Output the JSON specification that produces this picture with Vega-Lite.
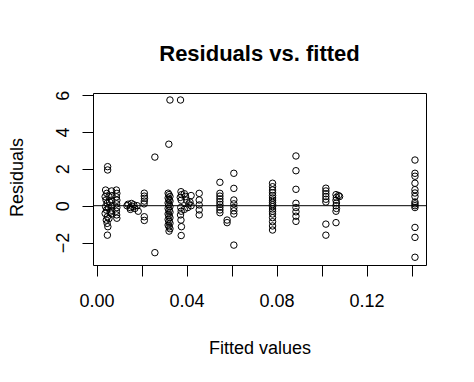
{
  "$schema": "https://vega.github.io/schema/vega-lite/v6.json",
  "width": 333,
  "height": 172,
  "autosize": {"type": "none"},
  "padding": {"left": 93, "top": 93, "right": 48, "bottom": 117},
  "background": "white",
  "title": {"text": "Residuals vs. fitted", "font": "Liberation Sans", "fontSize": 22, "fontWeight": "bold", "color": "black", "anchor": "middle", "frame": "group", "baseline": "alphabetic", "offset": 7},
  "config": {
    "view": {"stroke": "black", "strokeWidth": 1},
    "axis": {"grid": false, "domain": false, "ticks": true, "tickColor": "black", "tickWidth": 1, "tickSize": 11, "labelFont": "Liberation Sans", "labelFontSize": 18, "labelColor": "black", "titleFont": "Liberation Sans", "titleFontSize": 18, "titleFontWeight": "normal", "titleColor": "black"}
  },
  "datasets": {
    "pts": [
      {"fitted": 0.0049, "resid": 2.12}, {"fitted": 0.0049, "resid": 1.94},
      {"fitted": 0.0040, "resid": 0.85}, {"fitted": 0.0045, "resid": 0.67}, {"fitted": 0.0038, "resid": 0.49}, {"fitted": 0.0042, "resid": 0.31}, {"fitted": 0.0047, "resid": 0.13}, {"fitted": 0.0040, "resid": -0.05}, {"fitted": 0.0044, "resid": -0.24}, {"fitted": 0.0038, "resid": -0.42}, {"fitted": 0.0048, "resid": -0.6}, {"fitted": 0.0043, "resid": -0.78}, {"fitted": 0.0047, "resid": -0.96}, {"fitted": 0.0050, "resid": -1.14}, {"fitted": 0.0048, "resid": -1.6},
      {"fitted": 0.0055, "resid": 0.5}, {"fitted": 0.0058, "resid": 0.2}, {"fitted": 0.0052, "resid": -0.1}, {"fitted": 0.0060, "resid": -0.35}, {"fitted": 0.0055, "resid": -0.7},
      {"fitted": 0.0067, "resid": 0.8}, {"fitted": 0.0068, "resid": 0.55}, {"fitted": 0.0066, "resid": 0.3}, {"fitted": 0.0068, "resid": 0.0}, {"fitted": 0.0067, "resid": -0.25}, {"fitted": 0.0066, "resid": -0.45},
      {"fitted": 0.0088, "resid": 0.85}, {"fitted": 0.0090, "resid": 0.67}, {"fitted": 0.0088, "resid": 0.48}, {"fitted": 0.0090, "resid": 0.3}, {"fitted": 0.0089, "resid": 0.1}, {"fitted": 0.0090, "resid": -0.1}, {"fitted": 0.0088, "resid": -0.3}, {"fitted": 0.0089, "resid": -0.5}, {"fitted": 0.0090, "resid": -0.68},
      {"fitted": 0.0135, "resid": 0.0}, {"fitted": 0.0140, "resid": 0.08}, {"fitted": 0.0150, "resid": -0.1}, {"fitted": 0.0155, "resid": 0.12}, {"fitted": 0.0160, "resid": -0.05}, {"fitted": 0.0165, "resid": 0.05}, {"fitted": 0.0170, "resid": -0.15}, {"fitted": 0.0180, "resid": 0.0}, {"fitted": 0.0185, "resid": -0.3}, {"fitted": 0.0150, "resid": -0.2},
      {"fitted": 0.0212, "resid": 0.68}, {"fitted": 0.0212, "resid": 0.52}, {"fitted": 0.0213, "resid": 0.4}, {"fitted": 0.0212, "resid": 0.25}, {"fitted": 0.0211, "resid": 0.1}, {"fitted": 0.0212, "resid": -0.6}, {"fitted": 0.0212, "resid": -0.8},
      {"fitted": 0.0259, "resid": 2.64}, {"fitted": 0.0259, "resid": -2.55},
      {"fitted": 0.0318, "resid": 0.68}, {"fitted": 0.0322, "resid": 0.6}, {"fitted": 0.0326, "resid": 0.5}, {"fitted": 0.0318, "resid": 0.42}, {"fitted": 0.0322, "resid": 0.33}, {"fitted": 0.0326, "resid": 0.25}, {"fitted": 0.0318, "resid": 0.15}, {"fitted": 0.0322, "resid": 0.05}, {"fitted": 0.0326, "resid": -0.05}, {"fitted": 0.0318, "resid": -0.15}, {"fitted": 0.0322, "resid": -0.25}, {"fitted": 0.0326, "resid": -0.35}, {"fitted": 0.0318, "resid": -0.45}, {"fitted": 0.0322, "resid": -0.55}, {"fitted": 0.0326, "resid": -0.65}, {"fitted": 0.0318, "resid": -0.75}, {"fitted": 0.0322, "resid": -0.85}, {"fitted": 0.0326, "resid": -0.95}, {"fitted": 0.0318, "resid": -1.05}, {"fitted": 0.0322, "resid": -1.15}, {"fitted": 0.0326, "resid": -1.25}, {"fitted": 0.0322, "resid": -1.38},
      {"fitted": 0.0326, "resid": 5.74}, {"fitted": 0.0321, "resid": 3.34}, {"fitted": 0.0373, "resid": 5.74},
      {"fitted": 0.0375, "resid": 0.76}, {"fitted": 0.0378, "resid": 0.6}, {"fitted": 0.0372, "resid": 0.45}, {"fitted": 0.0376, "resid": 0.3}, {"fitted": 0.0374, "resid": -0.1}, {"fitted": 0.0376, "resid": -0.3}, {"fitted": 0.0373, "resid": -0.5}, {"fitted": 0.0375, "resid": -0.78}, {"fitted": 0.0377, "resid": -1.14}, {"fitted": 0.0376, "resid": -1.62},
      {"fitted": 0.0390, "resid": 0.65}, {"fitted": 0.0395, "resid": 0.5}, {"fitted": 0.0400, "resid": 0.3}, {"fitted": 0.0410, "resid": 0.1}, {"fitted": 0.0420, "resid": 0.0}, {"fitted": 0.0405, "resid": -0.1}, {"fitted": 0.0415, "resid": 0.2}, {"fitted": 0.0390, "resid": -0.2}, {"fitted": 0.0420, "resid": 0.55},
      {"fitted": 0.0456, "resid": 0.67}, {"fitted": 0.0456, "resid": 0.31}, {"fitted": 0.0456, "resid": 0.04}, {"fitted": 0.0456, "resid": -0.23}, {"fitted": 0.0456, "resid": -0.5},
      {"fitted": 0.0548, "resid": 1.27}, {"fitted": 0.0548, "resid": 0.67}, {"fitted": 0.0548, "resid": 0.52}, {"fitted": 0.0548, "resid": 0.37}, {"fitted": 0.0548, "resid": 0.22}, {"fitted": 0.0548, "resid": 0.07}, {"fitted": 0.0548, "resid": -0.08}, {"fitted": 0.0548, "resid": -0.23}, {"fitted": 0.0548, "resid": -0.38},
      {"fitted": 0.0580, "resid": -0.78}, {"fitted": 0.0580, "resid": -0.92},
      {"fitted": 0.0610, "resid": 1.76}, {"fitted": 0.0610, "resid": 0.94}, {"fitted": 0.0610, "resid": 0.31}, {"fitted": 0.0610, "resid": 0.1}, {"fitted": 0.0610, "resid": -0.1}, {"fitted": 0.0610, "resid": -0.28}, {"fitted": 0.0610, "resid": -0.45}, {"fitted": 0.0610, "resid": -2.14},
      {"fitted": 0.0782, "resid": 1.22}, {"fitted": 0.0782, "resid": 1.03}, {"fitted": 0.0782, "resid": 0.85}, {"fitted": 0.0782, "resid": 0.7}, {"fitted": 0.0782, "resid": 0.55}, {"fitted": 0.0782, "resid": 0.42}, {"fitted": 0.0782, "resid": 0.3}, {"fitted": 0.0782, "resid": 0.18}, {"fitted": 0.0782, "resid": 0.06}, {"fitted": 0.0782, "resid": -0.05}, {"fitted": 0.0782, "resid": -0.18}, {"fitted": 0.0782, "resid": -0.3}, {"fitted": 0.0782, "resid": -0.45}, {"fitted": 0.0782, "resid": -0.65}, {"fitted": 0.0782, "resid": -0.87}, {"fitted": 0.0782, "resid": -1.1}, {"fitted": 0.0782, "resid": -1.32},
      {"fitted": 0.0886, "resid": 2.70}, {"fitted": 0.0886, "resid": 1.90}, {"fitted": 0.0886, "resid": 0.89}, {"fitted": 0.0886, "resid": 0.13}, {"fitted": 0.0886, "resid": -0.1}, {"fitted": 0.0886, "resid": -0.33}, {"fitted": 0.0886, "resid": -0.57}, {"fitted": 0.0886, "resid": -0.85},
      {"fitted": 0.1019, "resid": 0.95}, {"fitted": 0.1019, "resid": 0.8}, {"fitted": 0.1019, "resid": 0.65}, {"fitted": 0.1019, "resid": 0.5}, {"fitted": 0.1019, "resid": 0.35}, {"fitted": 0.1019, "resid": 0.2}, {"fitted": 0.1019, "resid": -1.0}, {"fitted": 0.1019, "resid": -1.6},
      {"fitted": 0.1064, "resid": 0.6}, {"fitted": 0.1066, "resid": 0.45}, {"fitted": 0.1064, "resid": 0.3}, {"fitted": 0.1066, "resid": 0.15}, {"fitted": 0.1064, "resid": 0.0}, {"fitted": 0.1066, "resid": -0.15}, {"fitted": 0.1064, "resid": -0.3}, {"fitted": 0.1064, "resid": -0.92}, {"fitted": 0.1075, "resid": 0.55}, {"fitted": 0.1080, "resid": 0.5},
      {"fitted": 0.1415, "resid": 2.48}, {"fitted": 0.1415, "resid": 1.76}, {"fitted": 0.1415, "resid": 1.6}, {"fitted": 0.1415, "resid": 1.22}, {"fitted": 0.1415, "resid": 0.87}, {"fitted": 0.1415, "resid": 0.69}, {"fitted": 0.1415, "resid": 0.5}, {"fitted": 0.1415, "resid": 0.2}, {"fitted": 0.1415, "resid": 0.1}, {"fitted": 0.1415, "resid": 0.0}, {"fitted": 0.1415, "resid": -0.1}, {"fitted": 0.1415, "resid": -1.18}, {"fitted": 0.1415, "resid": -1.72}, {"fitted": 0.1415, "resid": -2.8}
    ],
    "zero": [{"h": 0}]
  },
  "layer": [
    {
      "data": {"name": "zero"},
      "mark": {"type": "rule", "color": "black", "strokeWidth": 1},
      "encoding": {"y": {"field": "h", "type": "quantitative", "scale": {"domain": [-3.22, 6.12], "nice": false, "zero": false}}}
    },
    {
      "data": {"name": "pts"},
      "mark": {"type": "point", "shape": "circle", "filled": false, "stroke": "black", "strokeWidth": 1, "size": 42, "opacity": 1},
      "encoding": {
        "x": {"field": "fitted", "type": "quantitative", "scale": {"domain": [-0.0016, 0.1464], "nice": false, "zero": false},
          "axis": {"title": "Fitted values", "values": [0, 0.02, 0.04, 0.06, 0.08, 0.1, 0.12, 0.14], "labelExpr": "(round(datum.value*100) % 4 == 0) ? format(datum.value, '.2f') : ''", "labelPadding": 16, "labelFlush": false, "labelOverlap": false, "titleBaseline": "alphabetic", "titleY": 88, "titleX": 166.5, "titleAnchor": "middle"}},
        "y": {"field": "resid", "type": "quantitative", "scale": {"domain": [-3.22, 6.12], "nice": false, "zero": false},
          "axis": {"title": "Residuals", "values": [-2, 0, 2, 4, 6], "labelAngle": 270, "labelAlign": "center", "labelBaseline": "bottom", "labelPadding": 10, "labelFlush": false, "labelOverlap": false, "titleAngle": 270, "titleBaseline": "alphabetic", "titleX": -70.5, "titleY": 84, "titleAnchor": "middle"}}
      }
    }
  ]
}
